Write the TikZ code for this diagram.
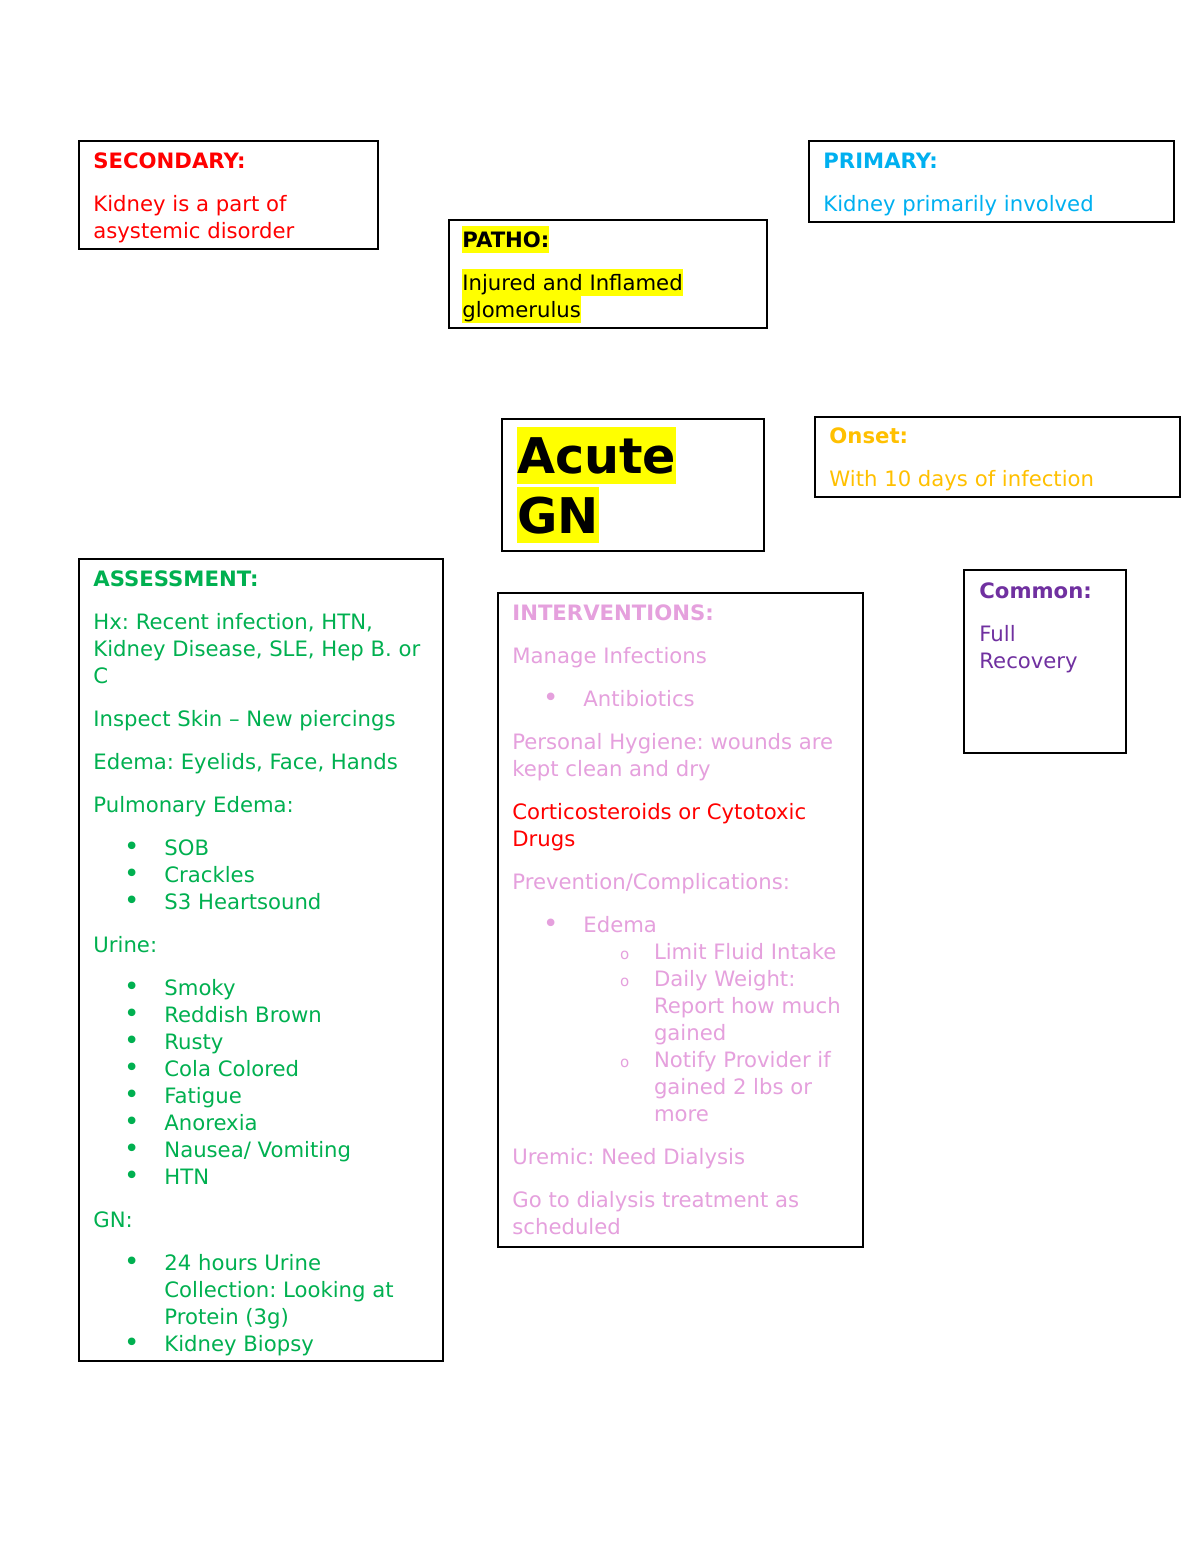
\documentclass[tikz,border=0pt]{standalone}
\usepackage{fontspec}
\setmainfont{DejaVu Sans}
\usetikzlibrary{positioning}

\definecolor{secred}{HTML}{FF0000}
\definecolor{primblue}{HTML}{00B0F0}
\definecolor{onsetgold}{HTML}{FFC000}
\definecolor{compurple}{HTML}{7030A0}
\definecolor{assgreen}{HTML}{00B050}
\definecolor{intpink}{HTML}{E5A0DD}
\definecolor{hlyellow}{HTML}{FFFF00}

% title line: strut fixes the top of the first line
\newcommand\hd[1]{\rule{0pt}{10.5pt}\textbf{#1}}
% yellow highlighter, small and big
\newcommand\hlt[1]{{\setlength{\fboxsep}{0pt}\colorbox{hlyellow}{\rule[-3pt]{0pt}{13.5pt}#1}}}
\newcommand\hltbig[1]{{\setlength{\fboxsep}{0pt}\colorbox{hlyellow}{\rule[-5pt]{0pt}{28.3pt}#1}}}
% list items: bullet, continuation, sub bullet, sub continuation
\newcommand\bulitm[1]{\hspace*{19.25pt}\makebox[0pt]{\fontsize{13}{13}\selectfont •}\hspace*{16.25pt}#1}
\newcommand\contln[1]{\hspace*{35.5pt}#1}
\newcommand\subitm[1]{\hspace*{56.2pt}\makebox[0pt]{\fontsize{7.5}{7.5}\selectfont o}\hspace*{14.6pt}#1}
\newcommand\subcont[1]{\hspace*{70.8pt}#1}

\begin{document}
\frenchspacing
\begin{tikzpicture}[x=0.5pt, y=-0.5pt,
    box/.style={draw=black, line width=1.4pt},
    txt/.style={anchor=north west, inner sep=0pt, align=left,
                font=\fontsize{10.6}{13.5}\selectfont},
    bigtxt/.style={anchor=north west, inner sep=0pt, align=left,
                font=\fontsize{24.6}{29.7}\selectfont\bfseries}]

  \fill[white] (0,0) rectangle (1200,1553);
  \useasboundingbox (0,0) rectangle (1200,1553);

  % ---- the frames
  \draw[box] (79,141)  rectangle (378,249);   % secondary
  \draw[box] (449,220) rectangle (767,328);   % patho
  \draw[box] (809,141) rectangle (1174,222);  % primary
  \draw[box] (502,419) rectangle (764,551);   % acute gn
  \draw[box] (815,417) rectangle (1180,497);  % onset
  \draw[box] (964,570) rectangle (1126,753);  % common
  \draw[box] (79,559)  rectangle (443,1361);  % assessment
  \draw[box] (498,593) rectangle (863,1247);  % interventions

  % ---- top row
  \node[txt, text=secred] (secondary) at (93,147)
    {\hd{SECONDARY:}\\[8pt]Kidney is a part of\\asystemic disorder};
  \node[txt, text=black] (patho) at (462,226)
    {\hlt{\textbf{PATHO:}}\\[8pt]\hlt{Injured and Inflamed}\\\hlt{glomerulus}};
  \node[txt, text=primblue] (primary) at (823,147)
    {\hd{PRIMARY:}\\[8pt]Kidney primarily involved};

  % ---- the middle
  \node[bigtxt] (acutegn) at (516.7,426.7) {\hltbig{Acute}\\\hltbig{GN}};
  \node[txt, text=onsetgold] (onset) at (829,422)
    {\hd{Onset:}\\[8pt]With 10 days of infection};
  \node[txt, text=compurple] (common) at (979,577)
    {\hd{Common:}\\[8pt]Full\\Recovery};

  % ---- assessment
  \node[txt, text=assgreen] (assessment) at (93,565)
    {\hd{ASSESSMENT:}\\[8pt]
     Hx: Recent infection, HTN,\\Kidney Disease, SLE, Hep B. or\\C\\[8pt]
     Inspect Skin – New piercings\\[8pt]
     Edema: Eyelids, Face, Hands\\[8pt]
     Pulmonary Edema:\\[8pt]
     \bulitm{SOB}\\\bulitm{Crackles}\\\bulitm{S3 Heartsound}\\[8pt]
     Urine:\\[8pt]
     \bulitm{Smoky}\\\bulitm{Reddish Brown}\\\bulitm{Rusty}\\\bulitm{Cola Colored}\\
     \bulitm{Fatigue}\\\bulitm{Anorexia}\\\bulitm{Nausea/ Vomiting}\\\bulitm{HTN}\\[8pt]
     GN:\\[8pt]
     \bulitm{24 hours Urine}\\\contln{Collection: Looking at}\\\contln{Protein (3g)}\\
     \bulitm{Kidney Biopsy}};

  % ---- interventions
  \node[txt, text=intpink] (interventions) at (512,599)
    {\hd{INTERVENTIONS:}\\[8pt]
     Manage Infections\\[8pt]
     \bulitm{Antibiotics}\\[8pt]
     Personal Hygiene: wounds are\\kept clean and dry\\[8pt]
     \textcolor{secred}{Corticosteroids or Cytotoxic}\\\textcolor{secred}{Drugs}\\[8pt]
     Prevention/Complications:\\[8pt]
     \bulitm{Edema}\\
     \subitm{Limit Fluid Intake}\\
     \subitm{Daily Weight:}\\\subcont{Report how much}\\\subcont{gained}\\
     \subitm{Notify Provider if}\\\subcont{gained 2 lbs or}\\\subcont{more}\\[8pt]
     Uremic: Need Dialysis\\[8pt]
     Go to dialysis treatment as\\scheduled};
\end{tikzpicture}
\end{document}
